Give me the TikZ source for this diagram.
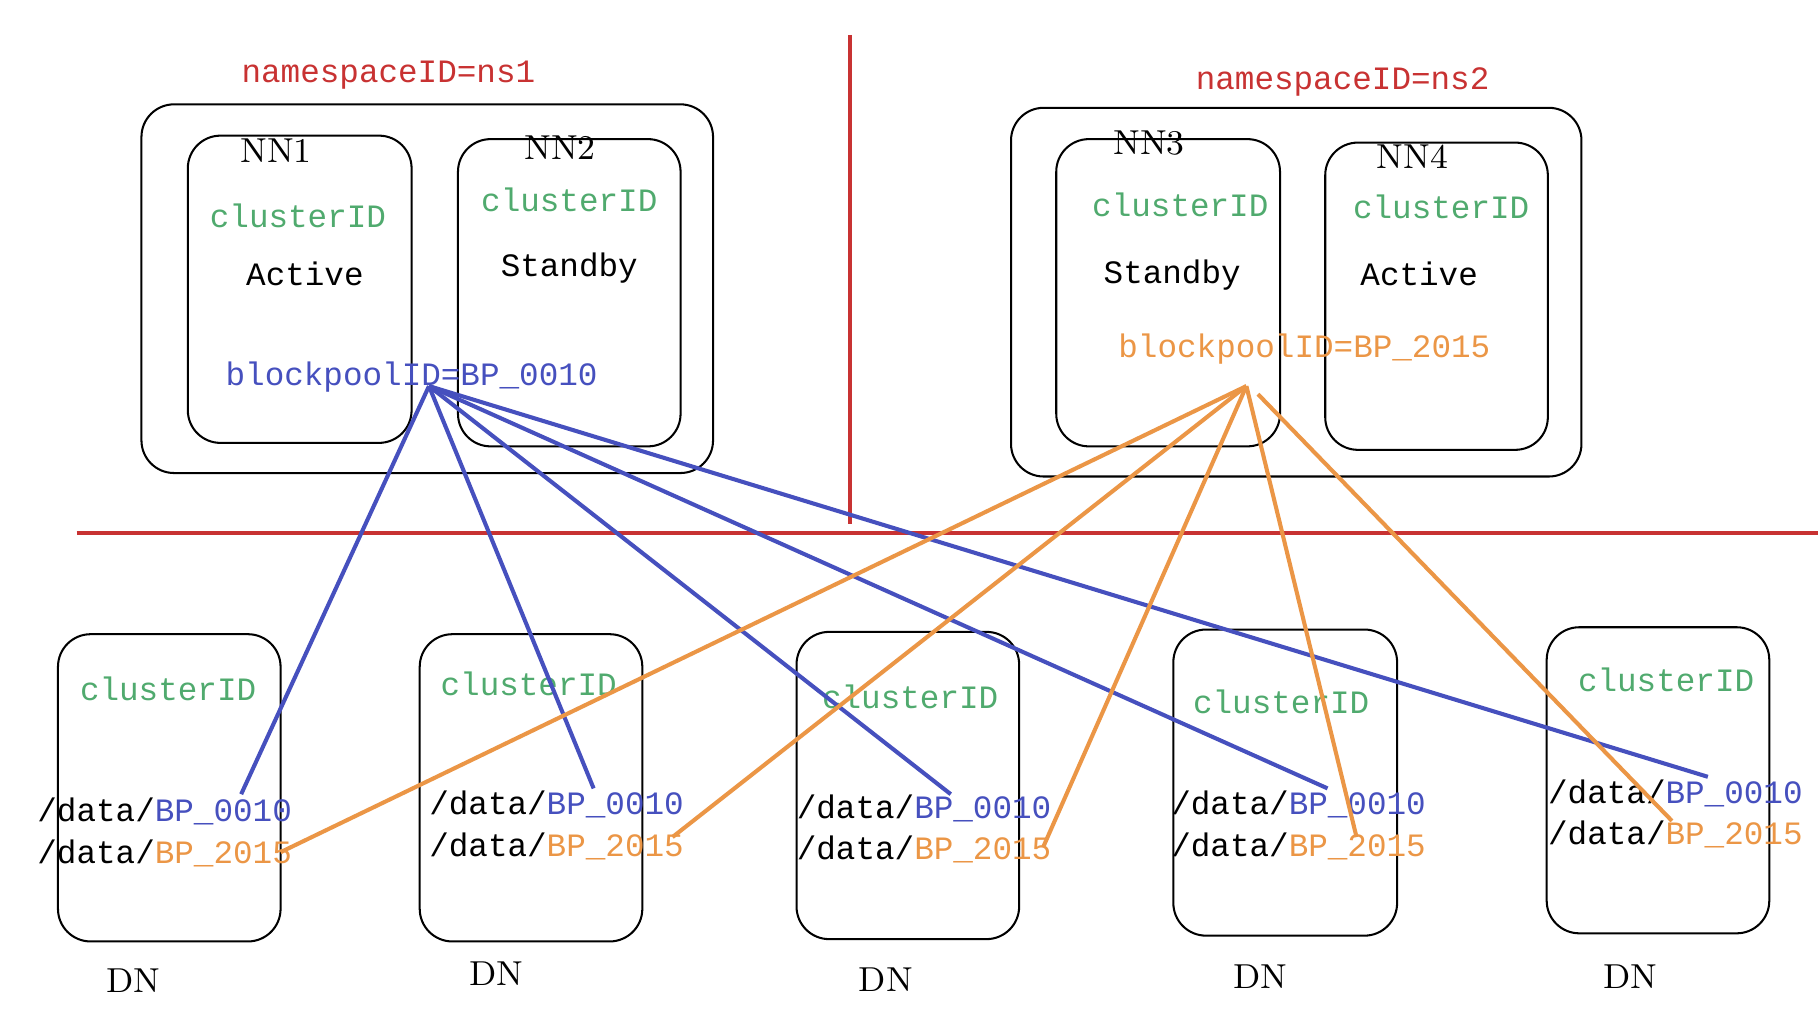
\documentclass[tikz,border=0pt]{standalone}
\usepackage{fontspec}
\newfontfamily\monof{Liberation Mono}
\usetikzlibrary{calc}
\definecolor{lred}{RGB}{200,50,50}
\definecolor{lgreen}{RGB}{80,170,110}
\definecolor{lblue}{RGB}{70,80,190}
\definecolor{lorange}{RGB}{235,150,70}
\begin{document}
\begin{tikzpicture}[x=0.01cm,y=-0.01cm,
  box/.style={draw,rounded corners=8pt,line width=0.5pt},
  mono/.style={font=\monof\fontsize{8}{9}\selectfont,inner sep=0pt},
  lbl/.style={font=\fontsize{8.5}{10}\selectfont,inner sep=0pt},
  bl/.style={lblue,line width=1pt},
  ol/.style={lorange,line width=1pt}]
\useasboundingbox (0,0) rectangle (1568,892);
% dividers
\draw[lred,line width=1pt] (733,30) -- (733,452);
\draw[lred,line width=1pt] (66,460) -- (1568,460);
% namespace 1
\node[mono,lred] (ns1) at (335,65) {namespaceID=ns1};
\draw[box] (122,90) rectangle (615,408);
\draw[box] (162,117) rectangle (355,382);
\draw[box] (395,120) rectangle (587,385);
\node[lbl] (nn1) at (238,130) {NN1};
\node[mono,lgreen] (c1) at (257,186) {clusterID};
\node[mono] (a1) at (263,236) {Active};
\node[lbl] (nn2) at (483,127) {NN2};
\node[mono,lgreen] (c2) at (491,172) {clusterID};
\node[mono] (s2) at (491,231) {Standby};
\node[mono,lblue] (bp1) at (355,325) {blockpoolID=BP\_0010};
% namespace 2
\node[mono,lred] (ns2) at (1158,71) {namespaceID=ns2};
\draw[box] (872,93) rectangle (1364,411);
\draw[box] (911,120) rectangle (1104,385);
\draw[box] (1143,123) rectangle (1335,388);
\node[lbl] (nn3) at (991,123) {NN3};
\node[mono,lgreen] (c3) at (1018,177) {clusterID};
\node[mono] (s3) at (1011,237) {Standby};
\node[lbl] (nn4) at (1218,135) {NN4};
\node[mono,lgreen] (c4) at (1243,178) {clusterID};
\node[mono] (a4) at (1224,236) {Active};
\node[mono,lorange] (bp2) at (1125,301) {blockpoolID=BP\_2015};
\coordinate (srcB) at (370,333);
\coordinate (srcO) at (1075,333);
\coordinate (srcO2) at (1085,340);
% data nodes
\foreach \i/\xa/\ya/\xb/\yb/\cx/\cy/\tx/\ty/\dx/\dy in {
 1/50/547/242/812/145/594/142/700/115/846,
 2/362/547/554/812/456/590/480/694/428/840,
 3/687/545/879/810/785/601/797/697/764/845,
 4/1012/543/1205/807/1105/605/1120/694/1087/842,
 5/1334/541/1526/805/1437/586/1445/684/1406/842}{
  \draw[box] (\xa,\ya) rectangle (\xb,\yb);
  \node[mono,lgreen] (dc\i) at (\cx,\cy) {clusterID};
  \node[mono] (db\i) at (\tx,\ty) {/data/\textcolor{lblue}{BP\_0010}};
  \node[mono] (do\i) at (\tx,\ty+36) {/data/\textcolor{lorange}{BP\_2015}};
  \node[lbl] (dn\i) at (\dx,\dy) {DN};
}
% connector ends
\coordinate (eb1) at (208,685); \coordinate (eo1) at (242,735);
\coordinate (eb2) at (512,680); \coordinate (eo2) at (580,722);
\coordinate (eb3) at (820,685); \coordinate (eo3) at (900,730);
\coordinate (eb4) at (1145,680); \coordinate (eo4) at (1170,722);
\coordinate (eb5) at (1473,670); \coordinate (eo5) at (1442,708);
\foreach \i in {1,...,5} \draw[bl] (srcB) -- (eb\i);
\foreach \i in {1,...,4} \draw[ol] (srcO) -- (eo\i);
\draw[ol] (srcO2) -- (eo5);
\end{tikzpicture}
\end{document}
